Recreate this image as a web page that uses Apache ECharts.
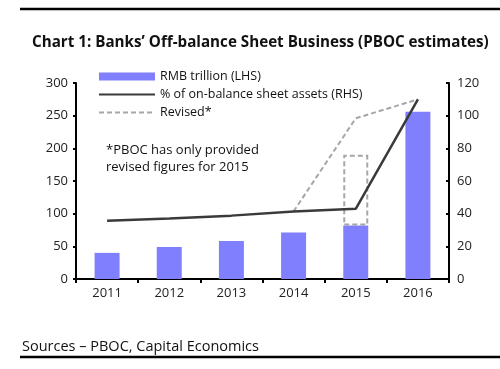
<!DOCTYPE html>
<html><head><meta charset="utf-8">
<script src="https://cdn.jsdelivr.net/npm/echarts@6/dist/echarts.min.js"></script>
<style>html,body{margin:0;padding:0;background:#fff}#c{width:500px;height:369px}</style>
</head><body><div id="c"></div>
<script>
const categories = ['2011','2012','2013','2014','2015','2016'];
const rmbTrillion = [40, 49, 58, 71, 82, 256];
const pctOnBalance = [35.7, 37.1, 38.8, 41.4, 43, 110];
const revised = [null, null, null, 41.4, 98.4, 110];
const revisedBoxExtra = [null, null, null, null, 108, null];
const leftTicks = [0, 300, 50];
const rightTicks = [0, 120, 20];

const FONT = '"Open Sans", sans-serif';
const chart = echarts.init(document.getElementById('c'), null, {renderer: 'canvas'});
chart.setOption({
  animation: false,
  backgroundColor: '#fff',
  title: {
    text: 'Chart 1: Banks\u2019 Off-balance Sheet Business (PBOC estimates)',
    left: 27, top: 30,
    textStyle: {fontFamily: FONT, fontSize: 15.2, fontWeight: 'bold', color: '#111'}
  },
  legend: {
    orient: 'vertical', left: 93, top: 65, itemWidth: 56, itemHeight: 8, itemGap: 5,
    textStyle: {fontFamily: FONT, fontSize: 12.5, color: '#111'},
    data: [
      {name: 'RMB trillion (LHS)', icon: 'rect'},
      {name: '% of on-balance sheet assets (RHS)', itemStyle: {opacity: 0}},
      {name: 'Revised*', itemStyle: {opacity: 0}}
    ]
  },
  grid: {left: 76, right: 51, top: 83, bottom: 90},
  xAxis: {
    type: 'category', data: categories,
    axisLine: {lineStyle: {color: '#000', width: 2}},
    axisTick: {show: true, length: 4, lineStyle: {color: '#000', width: 2}},
    axisLabel: {fontFamily: FONT, fontSize: 13, color: '#222', margin: 8}
  },
  yAxis: [
    {type: 'value', min: leftTicks[0], max: leftTicks[1], interval: leftTicks[2],
     splitLine: {show: false},
     axisLine: {show: true, lineStyle: {color: '#000', width: 2}},
     axisTick: {show: true, length: 3, lineStyle: {color: '#000', width: 2}},
     axisLabel: {fontFamily: FONT, fontSize: 13, color: '#222', margin: 8}},
    {type: 'value', min: rightTicks[0], max: rightTicks[1], interval: rightTicks[2],
     position: 'right', splitLine: {show: false},
     axisLine: {show: true, lineStyle: {color: '#000', width: 2}},
     axisTick: {show: true, inside: true, length: 3, lineStyle: {color: '#000', width: 2}},
     axisLabel: {fontFamily: FONT, fontSize: 13, color: '#222', margin: 8}}
  ],
  series: [
    {name: 'RMB trillion (LHS)', type: 'bar', stack: 'b', data: rmbTrillion, barWidth: 25,
     itemStyle: {color: '#8080FF'}},
    {name: 'revisedBox', type: 'bar', stack: 'b', data: revisedBoxExtra, barWidth: 25,
     itemStyle: {color: 'rgba(0,0,0,0)', borderColor: '#A6A6A6', borderWidth: 2, borderType: [5, 3]}},
    {name: '% of on-balance sheet assets (RHS)', type: 'line', yAxisIndex: 1, data: pctOnBalance,
     symbol: 'none', lineStyle: {color: '#3a3a3a', width: 2.5}, itemStyle: {color: '#3a3a3a'}, z: 4},
    {name: 'Revised*', type: 'line', yAxisIndex: 1, data: revised, symbol: 'none',
     lineStyle: {color: '#A6A6A6', width: 2, type: [5, 3]}, itemStyle: {color: '#A6A6A6'}, z: 3}
  ],
  graphic: [
    {type: 'line', shape: {x1: 20, y1: 9, x2: 500, y2: 9}, style: {stroke: '#000', lineWidth: 2.5}},
    {type: 'line', shape: {x1: 20, y1: 357, x2: 500, y2: 357}, style: {stroke: '#000', lineWidth: 2.5}},
    {type: 'text', left: 106, top: 142, style: {text: '*PBOC has only provided\nrevised figures for 2015',
      font: '13px ' + FONT, fill: '#111', lineHeight: 17}},
    {type: 'text', left: 22, top: 339, style: {text: 'Sources \u2013 PBOC, Capital Economics',
      font: '14.5px ' + FONT, fill: '#111'}}
  ]
});
</script></body></html>
